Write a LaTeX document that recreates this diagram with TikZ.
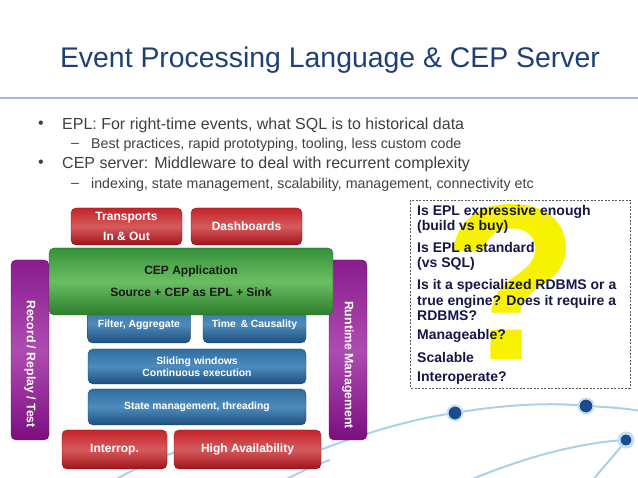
\documentclass[tikz,border=0pt]{standalone}
\usepackage{fontspec}
\setmainfont{Liberation Sans}
\usetikzlibrary{shapes.geometric}
\definecolor{titleblue}{HTML}{1F3F78}
\definecolor{bodygray}{HTML}{404040}
\definecolor{qnavy}{HTML}{16164A}
\definecolor{rulebl}{HTML}{9DBBE3}
\definecolor{redT}{HTML}{C42428}
\definecolor{redM}{HTML}{D65A5C}
\definecolor{redB}{HTML}{A0121A}
\definecolor{grnT}{HTML}{35913A}
\definecolor{grnM}{HTML}{6BBE62}
\definecolor{grnB}{HTML}{2C7E2E}
\definecolor{bluT}{HTML}{2F6D9E}
\definecolor{bluM}{HTML}{4D8CBD}
\definecolor{bluB}{HTML}{1D4E7C}
\definecolor{purT}{HTML}{8A1C8E}
\definecolor{purM}{HTML}{AE4CB0}
\definecolor{purB}{HTML}{7C0E80}
\definecolor{decoline}{HTML}{A9D2EA}
\definecolor{dotblue}{HTML}{1B4A8F}
\definecolor{halo}{HTML}{C4E1F3}
\definecolor{qyellow}{HTML}{F7F200}
\tikzset{
  boxbase/.style={rounded corners=5pt, inner sep=0pt, align=center},
  redbox/.style={boxbase, top color=redT, bottom color=redB, middle color=redM, draw=redB!80!black, line width=0.3pt, text=white, font=\fontsize{12}{20}\selectfont\bfseries},
  bluebox/.style={boxbase, top color=bluT, bottom color=bluB, middle color=bluM, draw=bluB!80!black, line width=0.3pt, text=white, font=\fontsize{10.4}{12}\selectfont\bfseries},
  greenbox/.style={boxbase, top color=grnT, bottom color=grnB, middle color=grnM, draw=grnB!80!black, line width=0.3pt, text=black!90, font=\fontsize{12}{22}\selectfont\bfseries},
  purbox/.style={boxbase, top color=purT, bottom color=purB, middle color=purM, draw=purB!80!black, line width=0.3pt},
  sidetext/.style={text=white, font=\fontsize{12.3}{14}\selectfont\bfseries, rotate=-90},
  bullettext/.style={anchor=west, inner sep=0pt, text=bodygray},
  qtext/.style={anchor=west, inner sep=0pt, text=qnavy, font=\fontsize{14}{15.2}\selectfont\bfseries, align=left},
  deco/.style={draw=decoline, line width=2pt},
  bigdot/.style={circle, fill=dotblue, draw=halo, line width=2pt, minimum size=15pt, inner sep=0pt},
}
\begin{document}
\begin{tikzpicture}[x=1pt,y=-1pt]
\useasboundingbox (0,0) rectangle (638,478);
\fill[white] (0,0) rectangle (638,478);

% background decorative lines
\coordinate (dA) at (455,413);
\coordinate (dB) at (586,406);
\coordinate (dC) at (626,440);
\draw[deco] (290,462) .. controls (330,445) and (400,420) .. (dA);
\draw[deco] (dA) .. controls (500,405) and (550,402) .. (dB);
\draw[deco] (dB) .. controls (605,407) and (625,408) .. (640,411);
\draw[deco] (470,480) .. controls (530,455) and (585,442) .. (dC);
\draw[deco] (dC) .. controls (615,455) and (603,467) .. (593,480);
\draw[deco] (115,480) .. controls (135,468) and (160,458) .. (180,450);
\draw[deco] (285,480) .. controls (300,472) and (315,465) .. (330,460);
\node[bigdot] (nA) at (dA) {};
\node[bigdot] (nB) at (dB) {};
\node[bigdot, minimum size=14pt, line width=3pt] (nC) at (dC) {};

% title
\node[text=titleblue, font=\fontsize{28.4}{32}\selectfont] (title) at (330,60) {Event Processing Language \& CEP Server};
\draw[rulebl, line width=1.2pt] (0,98) -- (638,98);

% bullets
\node[bullettext, font=\fontsize{16}{18}\selectfont] (b1d) at (38,125) {•};
\node[bullettext, font=\fontsize{16}{18}\selectfont] (b1) at (62,125) {EPL: For right-time events, what SQL is to historical data};
\node[bullettext, font=\fontsize{14.2}{16}\selectfont] (s1d) at (71,145) {–};
\node[bullettext, font=\fontsize{14.2}{16}\selectfont] (s1) at (91,145) {Best practices, rapid prototyping, tooling, less custom code};
\node[bullettext, font=\fontsize{16}{18}\selectfont] (b2d) at (38,164) {•};
\node[bullettext, font=\fontsize{16}{18}\selectfont] (b2) at (62,164) {CEP server: Middleware to deal with recurrent complexity};
\node[bullettext, font=\fontsize{14.2}{16}\selectfont] (s2d) at (71,185) {–};
\node[bullettext, font=\fontsize{14.2}{16}\selectfont] (s2) at (91,185) {indexing, state management, scalability, management, connectivity etc};

% big question mark
\node[anchor=base, inner sep=0pt, text=qyellow, font=\fontsize{222}{222}\selectfont\bfseries] (qm) at (511,360) {?};

% dashed question box
\draw[dashed, dash pattern=on 2pt off 1.5pt, draw=black!65, line width=0.7pt] (410,200) rectangle (630,388);
\node[qtext] (q1) at (417,219) {Is EPL expressive enough\\(build vs buy)};
\node[qtext] (q2) at (417,256) {Is EPL a standard\\(vs SQL)};
\node[qtext] (q3) at (417,300) {Is it a specialized RDBMS or a\\true engine? Does it require a\\RDBMS?};
\node[qtext] (q4) at (417,336) {Manageable?};
\node[qtext] (q5) at (417,357) {Scalable};
\node[qtext] (q6) at (417,378) {Interoperate?};

% side purple boxes
\node[purbox, minimum width=38pt, minimum height=180pt] (rec) at (30,350) {};
\node[sidetext] (rect) at (30,364) {Record / Replay / Test};
\node[purbox, minimum width=38pt, minimum height=180pt] (rt) at (348,350) {};
\node[sidetext] (rtt) at (348,365) {Runtime Management};

% blue boxes
\node[bluebox, minimum width=103pt, minimum height=38pt] (filt) at (139,324) {\raisebox{-9pt}{Filter, Aggregate}};
\node[bluebox, minimum width=103pt, minimum height=38pt] (time) at (254.5,324) {\raisebox{-9pt}{Time \,\& Causality}};
\node[bluebox, minimum width=218pt, minimum height=35pt] (slide) at (197,366.5) {Sliding windows\\Continuous execution};
\node[bluebox, minimum width=218pt, minimum height=36pt] (state) at (197,407) {State management, threading};

% green box
\node[greenbox, minimum width=284pt, minimum height=67pt] (cep) at (191,281.5) {CEP Application\\Source + CEP as EPL + Sink};

% red boxes
\node[redbox, minimum width=111pt, minimum height=37pt] (trans) at (126.5,226.5) {Transports\\In \& Out};
\node[redbox, minimum width=111pt, minimum height=37pt] (dash) at (246.5,226.5) {Dashboards};
\node[redbox, minimum width=105pt, minimum height=39pt] (inter) at (114.5,449.5) {Interrop.};
\node[redbox, minimum width=147pt, minimum height=39pt] (ha) at (247.5,449.5) {High Availability};
\end{tikzpicture}
\end{document}
